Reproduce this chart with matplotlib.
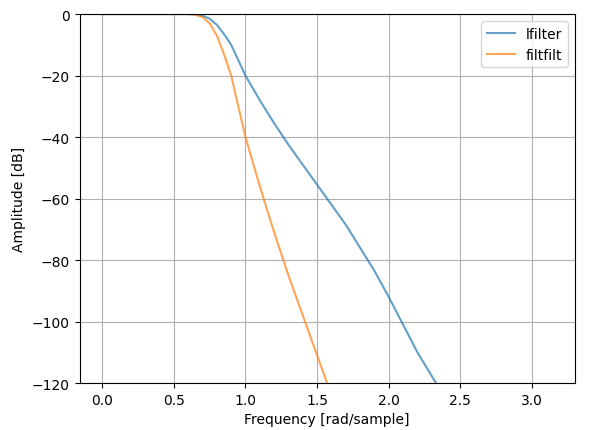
import matplotlib
matplotlib.use("Agg")
import matplotlib.pyplot as plt
import numpy as np

# values
w_lf = [0.0, 0.6, 0.65, 0.7, 0.75, 0.8, 0.85, 0.9, 0.95, 1.0, 1.1, 1.2, 1.3, 1.4,
        1.5, 1.6, 1.7, 1.8, 1.9, 2.0, 2.1, 2.2, 2.33, 2.45]
db_lf = [0.0, 0.0, -0.1, -0.5, -1.5, -3.5, -6.5, -10, -15, -20, -28, -35.5, -42.5, -49,
         -55.5, -62, -68.5, -76, -83.5, -92, -101, -110, -120, -131]
w_ff = [0.0, 0.6, 0.65, 0.7, 0.75, 0.8, 0.85, 0.9, 0.95, 1.0, 1.1, 1.2, 1.3, 1.4, 1.5, 1.6]
db_ff = [0.0, 0.0, -0.2, -1, -3, -7, -13, -20, -30, -40, -56, -71, -85, -98, -111, -124]

fig = plt.figure(figsize=(5.95, 4.31), dpi=100)
ax = fig.add_axes([0.134, 0.109, 0.832, 0.856])
ax.plot(w_lf, db_lf, alpha=0.7, label="lfilter")
ax.plot(w_ff, db_ff, alpha=0.7, label="filtfilt")
ax.set_xlim(-0.157, np.pi + 0.157)
ax.set_ylim(-120, 0)
ax.set_xlabel("Frequency [rad/sample]")
ax.set_ylabel("Amplitude [dB]")
ax.grid(True)
ax.legend()
fig.savefig("out.png", dpi=100)
